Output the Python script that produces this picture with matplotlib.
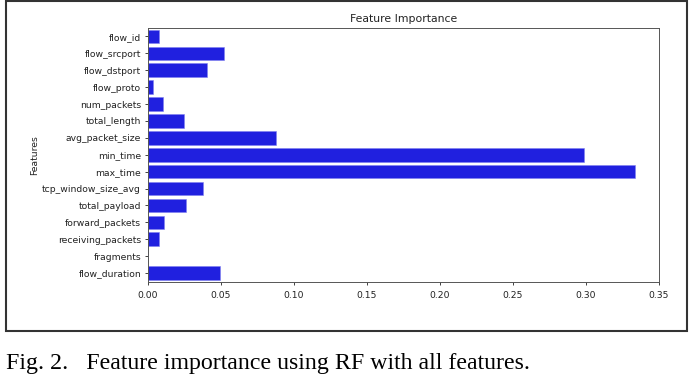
import matplotlib
matplotlib.use("Agg")
import matplotlib.pyplot as plt
from matplotlib.patches import Rectangle

features = ["flow_id", "flow_srcport", "flow_dstport", "flow_proto", "num_packets",
            "total_length", "avg_packet_size", "min_time", "max_time",
            "tcp_window_size_avg", "total_payload", "forward_packets",
            "receiving_packets", "fragments", "flow_duration"]
importance = [0.0078, 0.052, 0.0405, 0.0032, 0.0105,
              0.0245, 0.088, 0.2985, 0.3335,
              0.0375, 0.026, 0.011,
              0.0078, 0.0, 0.0495]

bar_color = "#2020df"

fig = plt.figure(figsize=(6.95, 3.84), dpi=100)
ax = fig.add_axes([148 / 695, 1 - 281.5 / 384, (659 - 148) / 695, (281.5 - 28) / 384])

ypos = list(range(len(features)))
ax.barh(ypos, importance, height=0.8, color=bar_color, edgecolor="#8080f0", linewidth=0.4)
ax.set_yticks(ypos)
ax.set_yticklabels(features)
ax.set_ylim(len(features) - 0.5, -0.5)
ax.set_xlim(0, max(importance) * 1.05)
ax.set_xticks([0.0, 0.05, 0.10, 0.15, 0.20, 0.25, 0.30, 0.35])
ax.set_xticklabels(["0.00", "0.05", "0.10", "0.15", "0.20", "0.25", "0.30", "0.35"])
ax.tick_params(labelsize=6.7, length=2.5, width=0.6, pad=2.5, colors="#222222")
ax.tick_params(axis="x", pad=4.5)
for s in ax.spines.values():
    s.set_linewidth(0.7)
    s.set_color("#555555")
ax.set_title("Feature Importance", fontsize=7.8, color="#222222", pad=4)
ax.set_ylabel("Features", fontsize=6.7, color="#222222", labelpad=2)

# frame round the chart and the paper caption
fig.patches.append(Rectangle((6 / 695, 1 - 331 / 384), 681 / 695, 330 / 384,
                             transform=fig.transFigure, fill=False,
                             edgecolor="#333333", linewidth=1.5))
fig.text(6 / 695, 1 - 369.5 / 384, "Fig. 2.   Feature importance using RF with all features.",
         family="Liberation Serif", fontsize=17.2, va="baseline", ha="left", color="black")

fig.savefig("out.png", dpi=100)
